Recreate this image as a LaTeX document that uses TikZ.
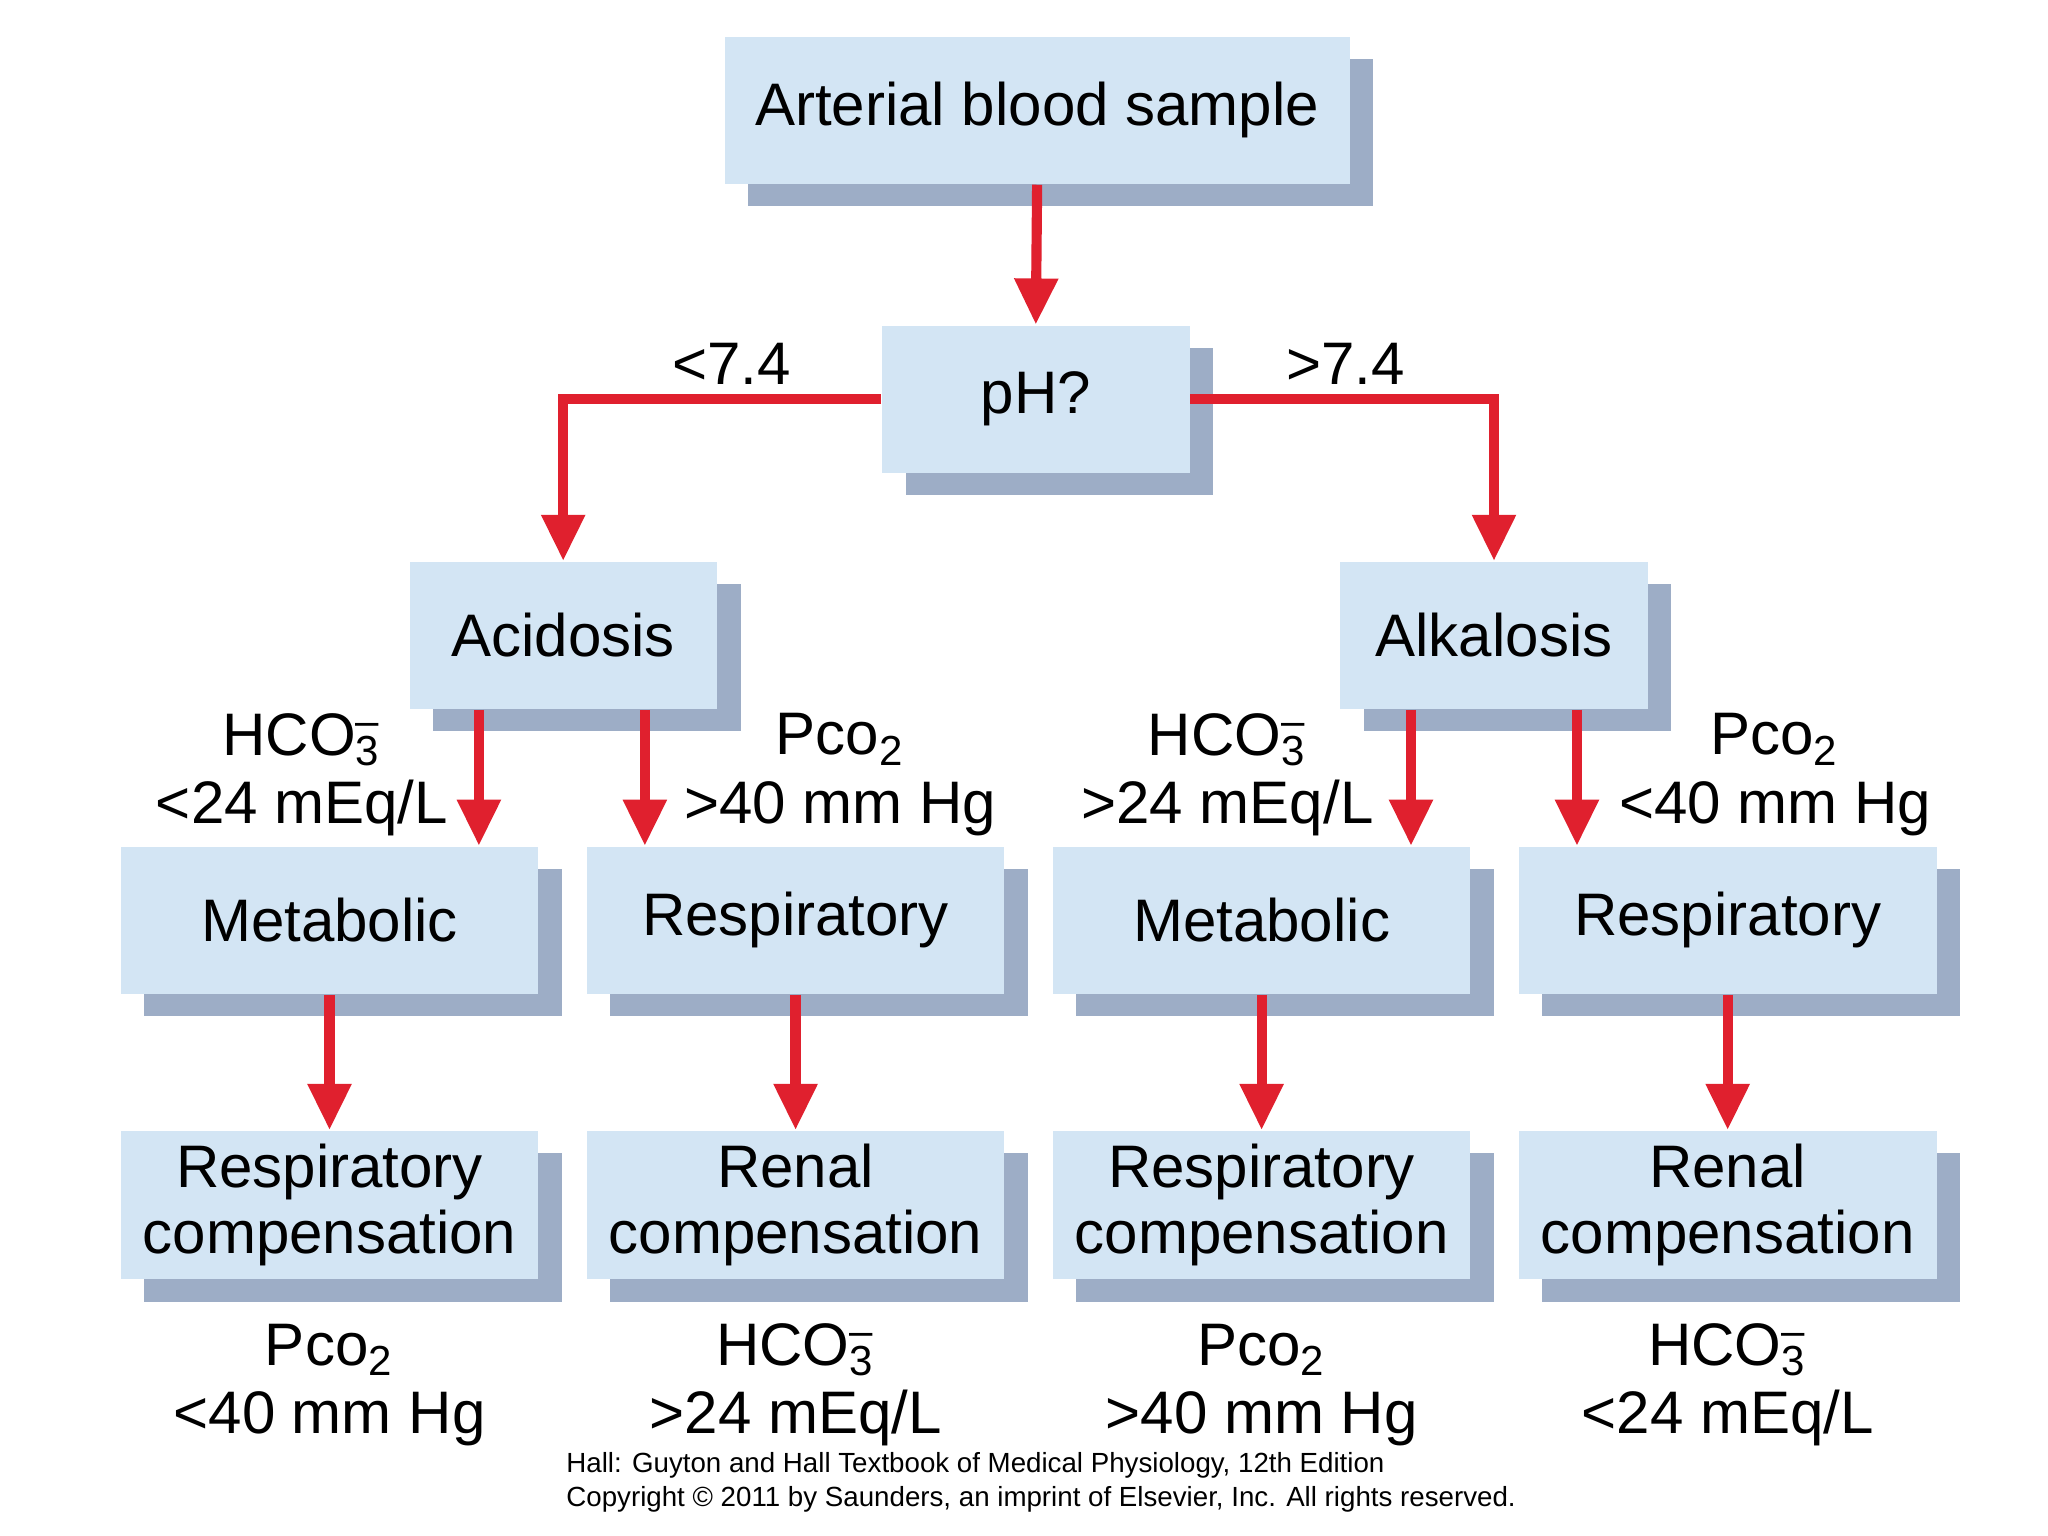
\documentclass[tikz,border=0pt]{standalone}
\usepackage{fontspec}
\setmainfont{Liberation Sans}
\usetikzlibrary{shadows,arrows.meta}
\definecolor{boxfill}{HTML}{D3E5F4}
\definecolor{shade}{HTML}{9DADC6}
\definecolor{arr}{HTML}{E0202E}
\newcommand{\hco}{HCO\rlap{\textsuperscript{--}}\textsubscript{3}}
\newcommand{\pco}{Pco\textsubscript{2}}
\begin{document}
\begin{tikzpicture}[x=0.01cm,y=-0.01cm,
  box/.style={fill=boxfill,inner sep=0pt,align=center,font=\fontsize{13}{14.3}\selectfont,
    general shadow={fill=shade,shadow xshift=0.18cm,shadow yshift=-0.17cm}},
  wide/.style={box,minimum width=3.18cm,minimum height=1.12cm},
  lab/.style={align=center,font=\fontsize{13}{14.8}\selectfont,inner sep=0pt},
  ar/.style={draw=arr,line width=2.2pt,-{Triangle[length=10pt,width=9pt]}}]
\useasboundingbox (0,0) rectangle (1560,1170);
\fill[white] (0,0) rectangle (1560,1170);
\node[box,minimum width=4.76cm,minimum height=1.12cm] (top) at (790,84) {Arterial blood sample};
\node[box,minimum width=2.34cm,minimum height=1.12cm] (ph) at (789,304) {pH?};
\node[box,minimum width=2.34cm,minimum height=1.12cm] (acid) at (429,484) {Acidosis};
\node[box,minimum width=2.34cm,minimum height=1.12cm] (alk) at (1138,484) {Alkalosis};
\node[wide] (m1) at (251,701) {Metabolic};
\node[wide] (r1) at (606,701) {Respiratory};
\node[wide] (m2) at (961,701) {Metabolic};
\node[wide] (r2) at (1316,701) {Respiratory};
\node[wide,minimum height=1.13cm] (c1) at (251,918) {Respiratory\\compensation};
\node[wide,minimum height=1.13cm] (c2) at (606,918) {Renal\\compensation};
\node[wide,minimum height=1.13cm] (c3) at (961,918) {Respiratory\\compensation};
\node[wide,minimum height=1.13cm] (c4) at (1316,918) {Renal\\compensation};
\draw[ar] (top.south) -- (ph.north);
\draw[ar] (ph.west) -| (acid.north);
\draw[ar] (ph.east) -| (alk.north);
\draw[ar] (acid.south -| m1.north east) ++(-46,0) coordinate (a1) -- (a1 |- m1.north);
\draw[ar] (acid.south -| r1.north west) ++(45,0) coordinate (a2) -- (a2 |- r1.north);
\draw[ar] (alk.south -| m2.north east) ++(-46,0) coordinate (a3) -- (a3 |- m2.north);
\draw[ar] (alk.south -| r2.north west) ++(45,0) coordinate (a4) -- (a4 |- r2.north);
\draw[ar] (m1.south) -- (c1.north);
\draw[ar] (r1.south) -- (c2.north);
\draw[ar] (m2.south) -- (c3.north);
\draw[ar] (r2.south) -- (c4.north);
\node[lab] (l1) at (557,277) {<7.4};
\node[lab] (l2) at (1025,277) {>7.4};
\node[lab] (t1) at (230,590) {\hco\\<24 mEq/L};
\node[lab] (t2) at (640,590) {\pco\\>40 mm Hg};
\node[lab] (t3) at (935,590) {\hco\\>24 mEq/L};
\node[lab] (t4) at (1352,590) {\pco\\<40 mm Hg};
\node[lab] (b1) at (251,1055) {\pco\\<40 mm Hg};
\node[lab] (b2) at (606,1055) {\hco\\>24 mEq/L};
\node[lab] (b3) at (961,1055) {\pco\\>40 mm Hg};
\node[lab] (b4) at (1316,1055) {\hco\\<24 mEq/L};
\node[align=left,font=\fontsize{6}{7.5}\selectfont,inner sep=0pt] (cr) at (793,1129) {Hall: Guyton and Hall Textbook of Medical Physiology, 12th Edition\\Copyright \textcopyright{} 2011 by Saunders, an imprint of Elsevier, Inc. All rights reserved.};
\end{tikzpicture}
\end{document}
